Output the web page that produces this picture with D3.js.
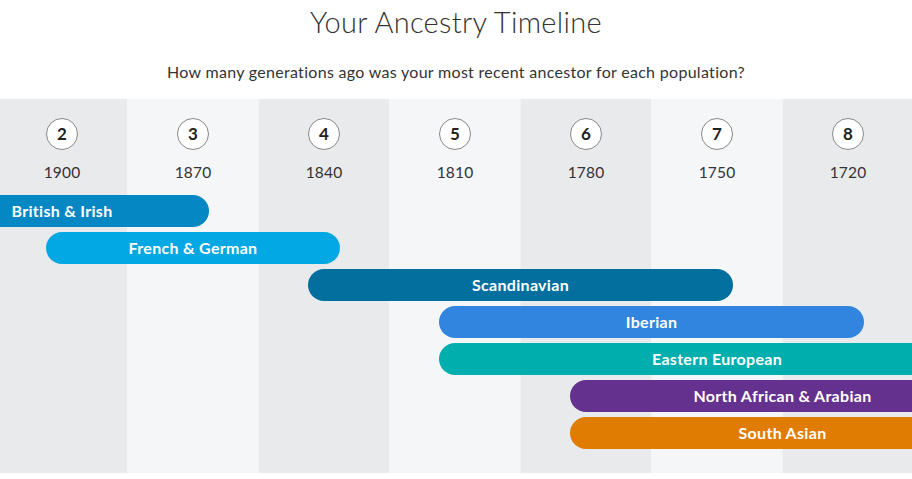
<!DOCTYPE html>
<html>
    <head>
        <title>Your Ancestry Timeline</title>
        <script src="https://d3js.org/d3.v7.min.js"></script>
        <style>
         body { margin: 0; background: #fff; }
         text { font-family: Lato, "Open Sans", sans-serif; }
        </style>
    </head>
    <body>
        <div id="chart"></div>
        <script type="text/javascript">
         // generations shown as columns, with the matching year
         var generations = [2, 3, 4, 5, 6, 7, 8];
         var years = [1900, 1870, 1840, 1810, 1780, 1750, 1720];

         // each population: first and last generation of the bar
         var populations = ["British & Irish", "French & German", "Scandinavian", "Iberian",
                            "Eastern European", "North African & Arabian", "South Asian"];
         var startGen = [1, 2, 4, 5, 5, 6, 6];
         var endGen   = [3, 4, 7, 8, 9, 9, 9];
         var colours  = ["#0487c3", "#02a8e3", "#026f9e", "#3185df", "#00aead", "#65318e", "#e07c02"];

         var width = 912, height = 479;
         var capR = 16;

         var svg = d3.select("#chart").append("svg")
             .attr("width", width).attr("height", height);

         var x = d3.scaleLinear().domain([2, 8]).range([62, 848]);
         var y = d3.scaleBand().domain(populations).range([195, 449]).paddingInner(5 / 37).paddingOuter(0);

         var bandTop = 99, bandBottom = 473;

         // column backgrounds
         svg.append("g").selectAll("rect")
             .data(d3.range(1, 10))
             .enter().append("rect")
             .attr("x", function(g) { return x(g - 0.5); })
             .attr("width", function(g) { return x(g + 0.5) - x(g - 0.5); })
             .attr("y", bandTop)
             .attr("height", bandBottom - bandTop)
             .attr("fill", function(g) { return g % 2 === 0 ? "#e9eaec" : "#f5f6f8"; });

         svg.append("text")
             .attr("x", width / 2).attr("y", 33)
             .attr("text-anchor", "middle")
             .attr("font-size", 29).attr("font-weight", 300)
             .attr("letter-spacing", 0.3)
             .attr("fill", "#333")
             .text("Your Ancestry Timeline");

         svg.append("text")
             .attr("x", width / 2).attr("y", 78)
             .attr("text-anchor", "middle")
             .attr("font-size", 16)
             .attr("letter-spacing", 0.3)
             .attr("fill", "#333")
             .text("How many generations ago was your most recent ancestor for each population?");

         var head = svg.append("g").selectAll("g")
             .data(generations)
             .enter().append("g")
             .attr("transform", function(g) { return "translate(" + x(g) + ",0)"; });

         head.append("circle")
             .attr("cy", 134).attr("r", 15.5)
             .attr("fill", "#fff").attr("stroke", "#888").attr("stroke-width", 1);

         head.append("text")
             .attr("y", 140).attr("text-anchor", "middle")
             .attr("font-size", 17).attr("font-weight", 700)
             .attr("fill", "#222")
             .text(function(g) { return g; });

         head.append("text")
             .attr("y", 178).attr("text-anchor", "middle")
             .attr("font-size", 15.5)
             .attr("letter-spacing", 0.2)
             .attr("fill", "#333")
             .text(function(g, i) { return years[i]; });

         var bars = svg.append("g").selectAll("g")
             .data(populations)
             .enter().append("g");

         bars.append("rect")
             .attr("x", function(d, i) { return x(startGen[i]) - capR; })
             .attr("width", function(d, i) { return x(endGen[i]) - x(startGen[i]) + 2 * capR; })
             .attr("y", function(d) { return y(d); })
             .attr("height", y.bandwidth())
             .attr("rx", capR).attr("ry", capR)
             .attr("fill", function(d, i) { return colours[i]; });

         bars.append("text")
             .attr("x", function(d, i) { return (x(startGen[i]) + x(endGen[i])) / 2; })
             .attr("y", function(d) { return y(d) + y.bandwidth() / 2 + 5.5; })
             .attr("text-anchor", "middle")
             .attr("font-size", 16).attr("font-weight", 700)
             .attr("letter-spacing", 0.3)
             .attr("fill", "#fff")
             .text(function(d) { return d; });
        </script>
    </body>
</html>
